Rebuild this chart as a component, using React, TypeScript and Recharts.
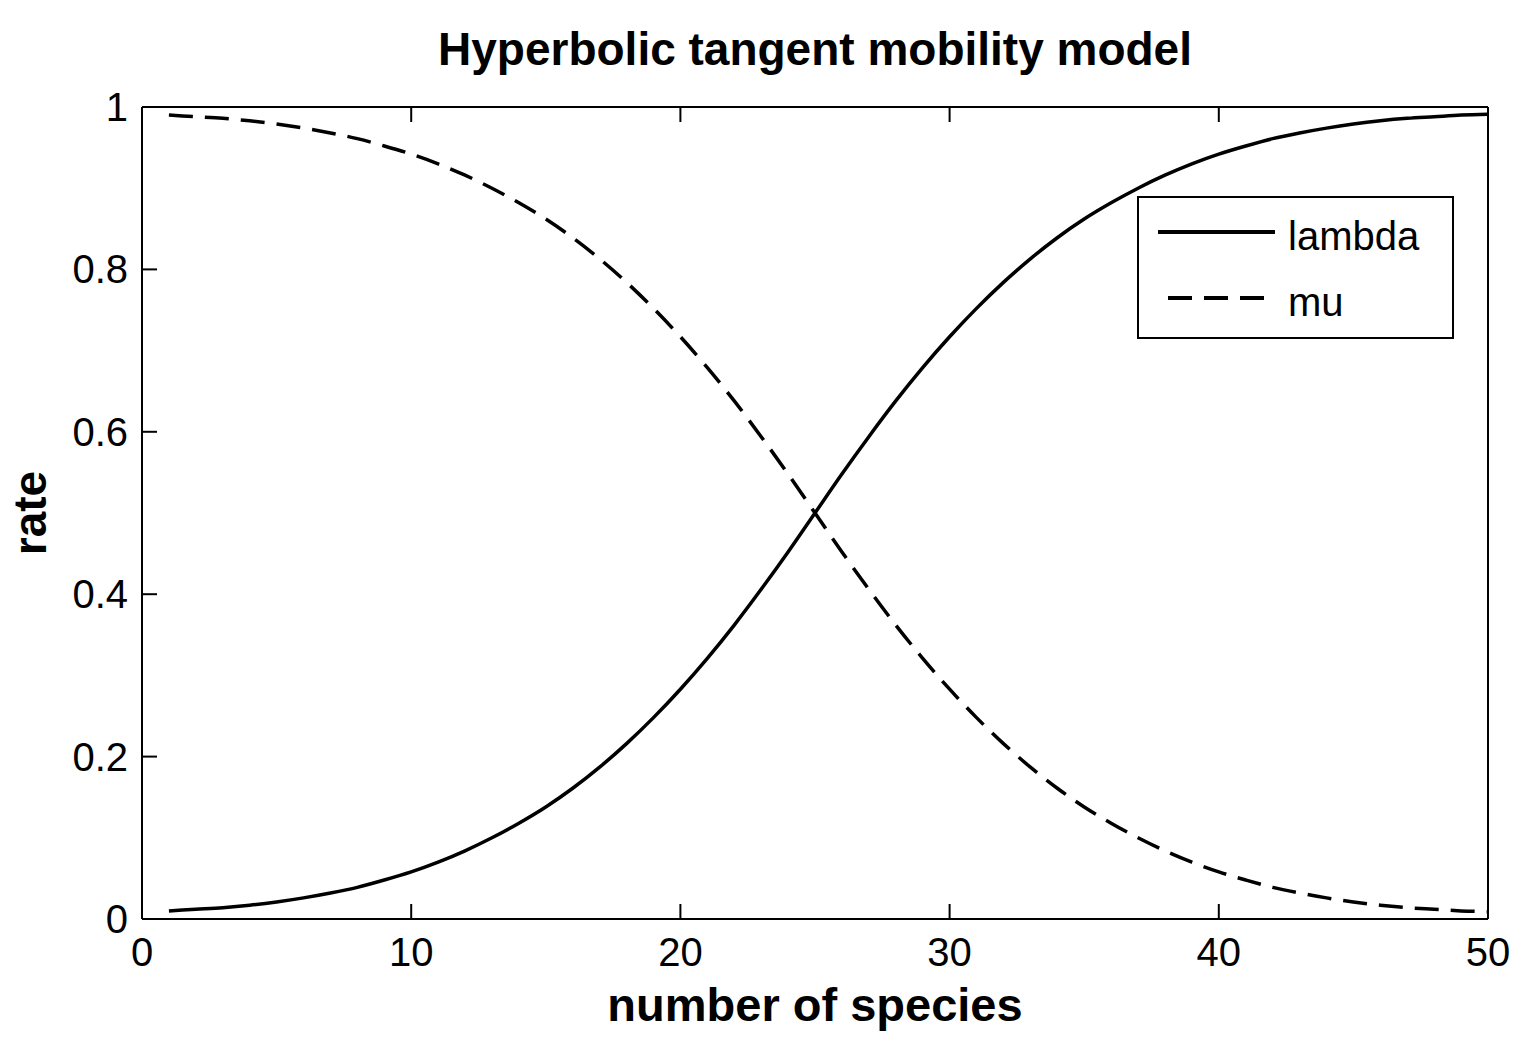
import { Legend, Line, LineChart, XAxis, YAxis } from "recharts";

// x = number of species (1..50)
const SPECIES = [
  1, 2, 3, 4, 5, 6, 7, 8, 9, 10, 11, 12, 13, 14, 15, 16, 17, 18, 19, 20, 21, 22, 23, 24, 25,
  26, 27, 28, 29, 30, 31, 32, 33, 34, 35, 36, 37, 38, 39, 40, 41, 42, 43, 44, 45, 46, 47, 48, 49, 50,
];

const LAMBDA = [
  0.01, 0.012, 0.014, 0.017, 0.021, 0.026, 0.032, 0.039, 0.048, 0.058,
  0.07, 0.084, 0.1, 0.118, 0.138, 0.161, 0.187, 0.216, 0.248, 0.283,
  0.321, 0.362, 0.406, 0.452, 0.5, 0.548, 0.594, 0.638, 0.679, 0.717,
  0.752, 0.784, 0.813, 0.839, 0.862, 0.882, 0.9, 0.916, 0.93, 0.942,
  0.952, 0.961, 0.968, 0.974, 0.979, 0.983, 0.986, 0.988, 0.99, 0.991,
];

const MU = [
  0.99, 0.988, 0.986, 0.983, 0.979, 0.974, 0.968, 0.961, 0.952, 0.942,
  0.93, 0.916, 0.9, 0.882, 0.862, 0.839, 0.813, 0.784, 0.752, 0.717,
  0.679, 0.638, 0.594, 0.548, 0.5, 0.452, 0.406, 0.362, 0.321, 0.283,
  0.248, 0.216, 0.187, 0.161, 0.138, 0.118, 0.1, 0.084, 0.07, 0.058,
  0.048, 0.039, 0.032, 0.026, 0.021, 0.017, 0.014, 0.012, 0.01, 0.009,
];

const X_TICKS = [0, 10, 20, 30, 40, 50];
const Y_TICKS = [0, 0.2, 0.4, 0.6, 0.8, 1];
const Y_TICK_LABELS = ["0", "0.2", "0.4", "0.6", "0.8", "1"];

const data = SPECIES.map((x, i) => ({ species: x, lambda: LAMBDA[i], mu: MU[i] }));

const FONT = "'Liberation Sans', Arial, sans-serif";
const LINE_STYLE = { stroke: "#000", strokeWidth: 2 };
const TICK_LEN = 15;

// ticks point inwards, like a boxed MATLAB axes
function BottomTick({ x, y, payload }: any) {
  return (
    <g>
      <line x1={x} x2={x} y1={y} y2={y - TICK_LEN} stroke="#000" strokeWidth={2} />
      <text x={x} y={y + 47} textAnchor="middle" fontSize={40} fontFamily={FONT} fill="#000">
        {payload.value}
      </text>
    </g>
  );
}

function LeftTick({ x, y, payload }: any) {
  const label = Y_TICK_LABELS[Y_TICKS.indexOf(payload.value)] ?? String(payload.value);
  return (
    <g>
      <line x1={x} x2={x + TICK_LEN} y1={y} y2={y} stroke="#000" strokeWidth={2} />
      <text x={x - 14} y={y + 14} textAnchor="end" fontSize={40} fontFamily={FONT} fill="#000">
        {label}
      </text>
    </g>
  );
}

function TopTick({ x, y }: any) {
  return <line x1={x} x2={x} y1={y} y2={y + TICK_LEN} stroke="#000" strokeWidth={2} />;
}

function RightTick({ x, y }: any) {
  return <line x1={x} x2={x - TICK_LEN} y1={y} y2={y} stroke="#000" strokeWidth={2} />;
}

function LegendBox({ payload }: any) {
  const items = (payload || []).filter((p: any) => p.value === "lambda" || p.value === "mu");
  return (
    <svg width={317} height={143} style={{ display: "block" }}>
      <rect x={1} y={1} width={315} height={141} fill="#fff" stroke="#000" strokeWidth={2} />
      {items.map((p: any) => {
        const dashed = p.value === "mu";
        const ly = dashed ? 102 : 36;
        return (
          <g key={p.value}>
            <line
              x1={dashed ? 31 : 21}
              x2={dashed ? 131 : 138}
              y1={ly}
              y2={ly}
              stroke="#000"
              strokeWidth={4}
              strokeDasharray={dashed ? "24 12" : undefined}
            />
            <text x={151} y={dashed ? 120 : 54} fontSize={40} fontFamily={FONT} fill="#000">
              {p.value}
            </text>
          </g>
        );
      })}
    </svg>
  );
}

export default function App() {
  return (
    <div style={{ position: "absolute", left: 0, top: 0, width: 1533, height: 1047, background: "#fff" }}>
      <LineChart
        width={1533}
        height={1047}
        data={data}
        margin={{ top: 106, right: 0, bottom: 0, left: 0 }}
      >
        <XAxis
          dataKey="species"
          type="number"
          domain={[0, 50]}
          ticks={X_TICKS}
          height={128}
          axisLine={LINE_STYLE}
          tickLine={false}
          tickSize={0}
          tickMargin={0}
          tick={<BottomTick />}
          label={{
            value: "number of species",
            position: "insideBottom",
            offset: 26,
            style: { fontSize: 47, fontWeight: "bold", fill: "#000", fontFamily: FONT },
          }}
        />
        <XAxis
          xAxisId="top"
          orientation="top"
          dataKey="species"
          type="number"
          domain={[0, 50]}
          ticks={X_TICKS}
          height={1}
          axisLine={LINE_STYLE}
          tickLine={false}
          tickSize={0}
          tickMargin={0}
          tick={<TopTick />}
          label={{
            value: "Hyperbolic tangent mobility model",
            position: "top",
            offset: 41,
            style: { fontSize: 46, fontWeight: "bold", fill: "#000", fontFamily: FONT },
          }}
        />
        <YAxis
          type="number"
          domain={[0, 1]}
          ticks={Y_TICKS}
          width={142}
          axisLine={LINE_STYLE}
          tickLine={false}
          tickSize={0}
          tickMargin={0}
          tick={<LeftTick />}
          label={{
            value: "rate",
            angle: -90,
            position: "insideLeft",
            offset: 30,
            style: { fontSize: 46, fontWeight: "bold", fill: "#000", fontFamily: FONT, textAnchor: "middle" },
          }}
        />
        <YAxis
          yAxisId="right"
          orientation="right"
          type="number"
          domain={[0, 1]}
          ticks={Y_TICKS}
          width={45}
          axisLine={LINE_STYLE}
          tickLine={false}
          tickSize={0}
          tickMargin={0}
          tick={<RightTick />}
        />
        <Legend
          layout="horizontal"
          verticalAlign="middle"
          align="center"
          content={<LegendBox />}
          wrapperStyle={{ left: 1137, top: 196, width: 317, height: 143 }}
        />
        <Line
          type="monotone"
          dataKey="lambda"
          name="lambda"
          stroke="#000"
          strokeWidth={3.5}
          dot={false}
          isAnimationActive={false}
        />
        <Line
          type="monotone"
          dataKey="mu"
          name="mu"
          stroke="#000"
          strokeWidth={3.5}
          strokeDasharray="24 12"
          dot={false}
          isAnimationActive={false}
        />
      </LineChart>
    </div>
  );
}
